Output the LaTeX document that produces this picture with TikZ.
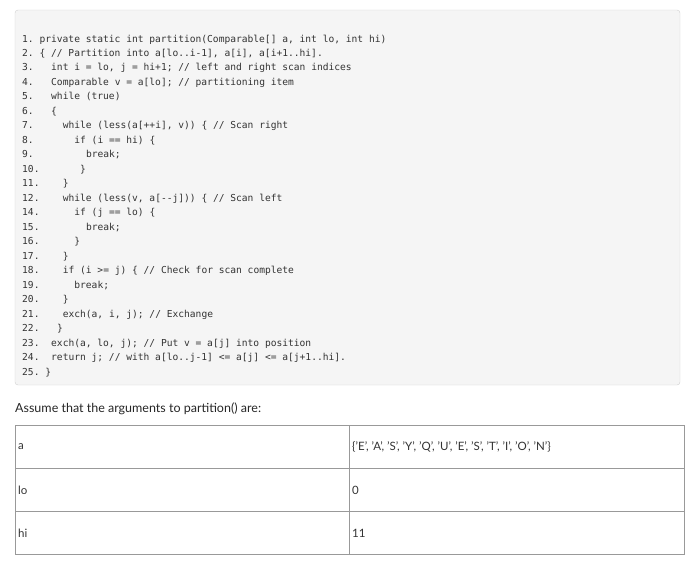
\documentclass[tikz,border=0pt]{standalone}
\usepackage{fontspec}
\setmainfont{Lato}
\setmonofont{DejaVu Sans Mono}
\begin{document}
\begin{tikzpicture}[x=1pt,y=-1pt,
  code/.style={anchor=base west,inner sep=0pt,font=\ttfamily\fontsize{9.6}{10}\selectfont,text=black!80},
  cell/.style={anchor=west,inner sep=0pt,font=\fontsize{11.5}{13}\selectfont,text=black!80}]
\useasboundingbox (0,0) rectangle (700,562);
\draw[rounded corners=3pt,draw=black!18,fill=black!4] (15,10) rectangle (680,385);
\def\cw{5.8}
\foreach \n/\c/\t [count=\k from 0] in {
 1./3/{private static int partition(Comparable[] a, int lo, int hi)},
 2./3/{\{ // Partition into a[lo..i-1], a[i], a[i+1..hi].},
 3./5/{int i = lo, j = hi+1; // left and right scan indices},
 4./5/{Comparable v = a[lo]; // partitioning item},
 5./5/{while (true)},
 6./5/{\{},
 7./7/{while (less(a[++i], v)) \{ // Scan right},
 8./9/{if (i == hi) \{},
 9./11/{break;},
 10./10/{\}},
 11./7/{\}},
 12./7/{while (less(v, a[--j])) \{ // Scan left},
 14./9/{if (j == lo) \{},
 15./11/{break;},
 16./9/{\}},
 17./7/{\}},
 18./7/{if (i >= j) \{ // Check for scan complete},
 19./9/{break;},
 20./7/{\}},
 21./7/{exch(a, i, j); // Exchange},
 22./6/{\}},
 23./5/{exch(a, lo, j); // Put v = a[j] into position},
 24./5/{return j; // with a[lo..j-1] <= a[j] <= a[j+1..hi].},
 25./4/{\}}}{
  \node[code] (n\k) at (22,{42+14.48*\k}) {\n};
  \node[code] (c\k) at ({22+\cw*\c},{42+14.48*\k}) {\t};
}
\node[anchor=base west,inner sep=0pt,font=\fontsize{12.5}{14}\selectfont,text=black!85] (q) at (15,412) {Assume that the arguments to partition() are:};
\draw[black!40,line width=0.8pt] (15,425) rectangle (684,554);
\draw[black!40,line width=0.8pt] (15,468) -- (684,468) (15,511) -- (684,511) (349,425) -- (349,554);
\node[cell] (a) at (18,447) {a};
\node[cell] (av) at (352,447) {\{'E', 'A', 'S', 'Y', 'Q', 'U', 'E', 'S', 'T', 'I', 'O', 'N'\}};
\node[cell] (lo) at (18,490) {lo};
\node[cell] (lov) at (352,490) {0};
\node[cell] (hi) at (18,533) {hi};
\node[cell] (hiv) at (352,533) {11};
\end{tikzpicture}
\end{document}
